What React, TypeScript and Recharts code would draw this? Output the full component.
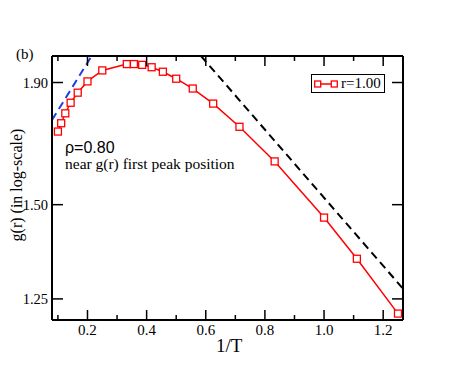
import React from 'react';
import { ComposedChart, Line, XAxis, YAxis } from 'recharts';

// 1/T values of the simulated temperatures
const invT = [0.1, 0.111, 0.125, 0.143, 0.167, 0.2, 0.25, 0.333, 0.357, 0.385, 0.417, 0.455, 0.5, 0.556, 0.625, 0.714, 0.833, 1.0, 1.111, 1.25];
// g(r) at r=1.00
const gPeak = [1.728, 1.756, 1.79, 1.827, 1.863, 1.904, 1.945, 1.969, 1.969, 1.966, 1.957, 1.94, 1.914, 1.878, 1.824, 1.744, 1.631, 1.463, 1.351, 1.215];

// dashed guide lines (end points)
const blueX = [0.08, 0.214];
const blueY = [1.767, 2.0];
const blackX = [0.584, 1.267];
const blackY = [2.0, 1.275];

const xTicks = [0.1, 0.2, 0.3, 0.4, 0.5, 0.6, 0.7, 0.8, 0.9, 1.0, 1.1, 1.2];
const yTicks = [1.25, 1.5, 1.9];

const mainData = invT.map((x, i) => ({ x, g: gPeak[i] }));
const blueData = blueX.map((x, i) => ({ x, g: blueY[i] }));
const blackData = blackX.map((x, i) => ({ x, g: blackY[i] }));

const SERIF = "'Liberation Serif', 'Times New Roman', serif";
const SANS = "'Liberation Sans', Arial, sans-serif";

const isMajor = (v: number) => Math.round(v * 10) % 2 === 0;

const BottomTick = (props: any) => {
  const { x, y, payload } = props;
  const major = isMajor(payload.value);
  return (
    <g>
      <line x1={x} y1={y} x2={x} y2={y - (major ? 10 : 5)} stroke="#000" strokeWidth={1.5} />
      {major && (
        <text x={x} y={y + 15} textAnchor="middle" fontFamily={SERIF} fontSize={15} fill="#000">
          {payload.value.toFixed(1)}
        </text>
      )}
    </g>
  );
};

const TopTick = (props: any) => {
  const { x, y, payload } = props;
  const major = isMajor(payload.value);
  return <line x1={x} y1={y} x2={x} y2={y + (major ? 10 : 5)} stroke="#000" strokeWidth={1.5} />;
};

const LeftTick = (props: any) => {
  const { x, y, payload } = props;
  return (
    <g>
      <line x1={x} y1={y} x2={x + 11} y2={y} stroke="#000" strokeWidth={1.5} />
      <text x={x - 4} y={y + 5} textAnchor="end" fontFamily={SERIF} fontSize={14.5} fill="#000">
        {payload.value.toFixed(2)}
      </text>
    </g>
  );
};

const RightTick = (props: any) => {
  const { x, y } = props;
  return <line x1={x} y1={y} x2={x - 11} y2={y} stroke="#000" strokeWidth={1.5} />;
};

const SquareDot = (props: any) => {
  const { cx, cy, index } = props;
  return <rect key={`sq-${index}`} x={cx - 3.5} y={cy - 3.5} width={7} height={7} fill="#fff" stroke="#f00" strokeWidth={1.3} />;
};

export default function App() {
  return (
    <div style={{ position: 'relative', width: 474, height: 377, margin: -8, background: '#fff' }}>
      <ComposedChart width={474} height={377} margin={{ top: 55, right: 70, bottom: 0, left: 0 }}>
        <XAxis
          xAxisId="b"
          dataKey="x"
          type="number"
          domain={[0.08, 1.267]}
          allowDataOverflow
          ticks={xTicks}
          interval={0}
          height={57}
          tickSize={0}
          tickMargin={0}
          tick={BottomTick}
          axisLine={{ stroke: '#000', strokeWidth: 2 }}
        />
        <XAxis
          xAxisId="t"
          orientation="top"
          dataKey="x"
          type="number"
          domain={[0.08, 1.267]}
          allowDataOverflow
          ticks={xTicks}
          interval={0}
          height={1}
          tickSize={0}
          tickMargin={0}
          tick={TopTick}
          axisLine={{ stroke: '#000', strokeWidth: 2 }}
        />
        <YAxis
          yAxisId="l"
          type="number"
          scale="log"
          domain={[1.2, 2.0]}
          allowDataOverflow
          ticks={yTicks}
          interval={0}
          width={52}
          tickSize={0}
          tickMargin={0}
          tick={LeftTick}
          axisLine={{ stroke: '#000', strokeWidth: 2 }}
        />
        <YAxis
          yAxisId="r"
          orientation="right"
          type="number"
          scale="log"
          domain={[1.2, 2.0]}
          allowDataOverflow
          ticks={yTicks}
          interval={0}
          width={1}
          tickSize={0}
          tickMargin={0}
          tick={RightTick}
          axisLine={{ stroke: '#000', strokeWidth: 2 }}
        />
        <Line
          xAxisId="b"
          yAxisId="l"
          data={blueData}
          dataKey="g"
          stroke="#1f3fe0"
          strokeWidth={2}
          strokeDasharray="8 5"
          dot={false}
          isAnimationActive={false}
        />
        <Line
          xAxisId="b"
          yAxisId="l"
          data={blackData}
          dataKey="g"
          stroke="#000"
          strokeWidth={2}
          strokeDasharray="8 5"
          dot={false}
          isAnimationActive={false}
        />
        <Line
          xAxisId="b"
          yAxisId="l"
          data={mainData}
          dataKey="g"
          stroke="#f00"
          strokeWidth={1.5}
          dot={SquareDot}
          isAnimationActive={false}
        />
      </ComposedChart>

      <div style={{ position: 'absolute', left: 16, top: 45, fontFamily: SERIF, fontSize: 15, lineHeight: '18px' }}>(b)</div>
      <div style={{ position: 'absolute', left: 65, top: 140, fontFamily: SANS, fontSize: 16, lineHeight: '16px' }}>ρ=0.80</div>
      <div style={{ position: 'absolute', left: 65, top: 156, fontFamily: SERIF, fontSize: 15.5, lineHeight: '15px', whiteSpace: 'nowrap' }}>
        near g(r) first peak position
      </div>
      <div style={{ position: 'absolute', left: 0, top: 185, width: 0, height: 0 }}>
        <div
          style={{
            position: 'absolute',
            left: 17,
            top: 0,
            transform: 'translate(-50%, -50%) rotate(-90deg)',
            fontFamily: SERIF,
            fontSize: 16,
            whiteSpace: 'nowrap',
            lineHeight: '18px',
          }}
        >
          g(r) (in log-scale)
        </div>
      </div>
      <div style={{ position: 'absolute', left: 216, top: 335, fontFamily: SERIF, fontSize: 19, lineHeight: '22px' }}>1/T</div>

      <div
        style={{
          position: 'absolute',
          left: 311,
          top: 74,
          height: 17,
          border: '1.5px solid #000',
          display: 'flex',
          alignItems: 'center',
          padding: '0 3px 0 2px',
          background: '#fff',
          fontFamily: SERIF,
          fontSize: 15,
        }}
      >
        <svg width={24} height={10} style={{ marginRight: 3 }}>
          <line x1={3} y1={5} x2={21} y2={5} stroke="#f00" strokeWidth={1.5} />
          <rect x={0.7} y={2} width={6} height={6} fill="#fff" stroke="#f00" strokeWidth={1.3} />
          <rect x={17.3} y={2} width={6} height={6} fill="#fff" stroke="#f00" strokeWidth={1.3} />
        </svg>
        <span>r=1.00</span>
      </div>
    </div>
  );
}
